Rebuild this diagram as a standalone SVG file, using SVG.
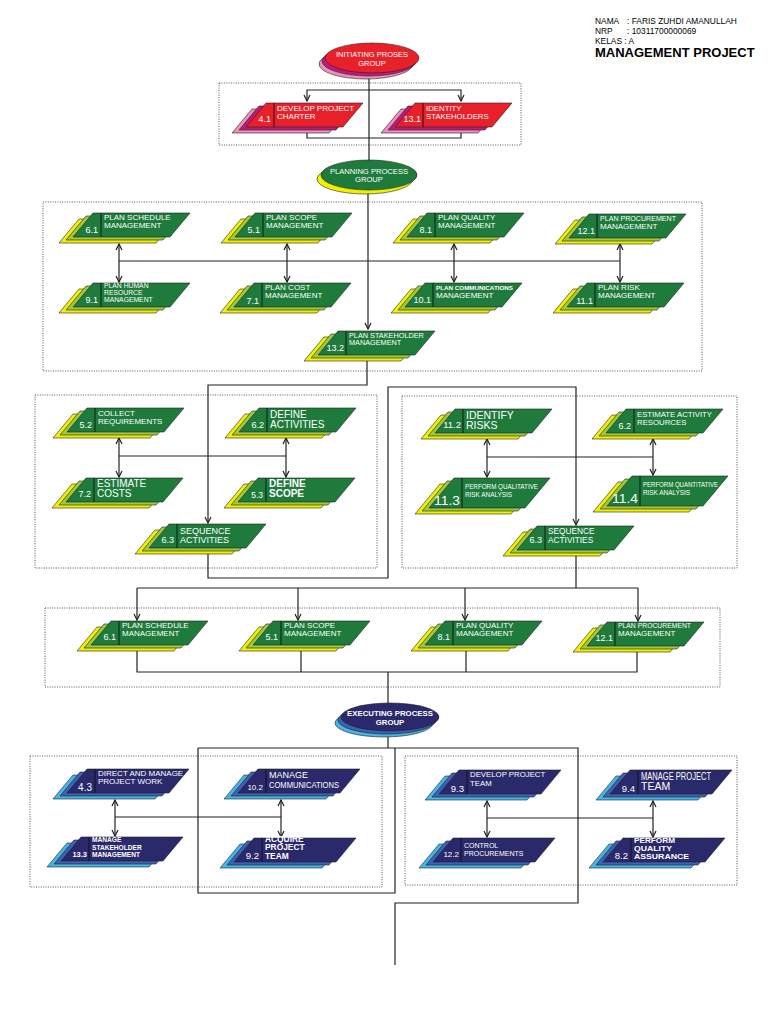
<svg xmlns="http://www.w3.org/2000/svg" xmlns:xlink="http://www.w3.org/1999/xlink" width="768" height="1024" viewBox="0 0 768 1024">
<style>
text{font-family:"Liberation Sans",Arial,sans-serif;}
.t{fill:#fff;font-size:8px;}
.n{fill:#fff;font-size:9px;text-anchor:end;}
.b{font-weight:bold;}
.hd{fill:#000;font-size:8.4px;}
.box{fill:none;stroke:#444;stroke-width:0.9;stroke-dasharray:1 1.4;}
.c{fill:none;stroke:#222;stroke-width:1.2;}
.dv{stroke:#111;stroke-width:0.9;}
.o{stroke:#222;stroke-width:0.6;}
.g1{fill:#1e7b3b;}.g2{fill:#9dc93b;}.g3{fill:#f2f000;}
.r1{fill:#e8202a;}.r2{fill:#c2187a;}.r3{fill:#ea92b9;}
.b1{fill:#29296b;}.b2{fill:#3d62b3;}.b3{fill:#45b5e5;}
</style>
<defs>
<marker id="ah" viewBox="0 0 8 8" refX="7" refY="4" markerWidth="8" markerHeight="8" markerUnits="userSpaceOnUse" orient="auto-start-reverse"><path d="M1,1 L7,4 L1,7" fill="none" stroke="#222" stroke-width="1.2"/></marker>
<g id="shG"><polygon class="g3 o" points="-22,6 75,6 55,30 -42,30"/><polygon class="g2 o" points="-15,3 82,3 62,27 -35,27"/><polygon class="g1 o" points="-8,0 89,0 69,24 -28,24"/><line class="dv" x1="0" y1="0" x2="0" y2="24"/></g>
<g id="shGt"><polygon class="g3 o" points="-22,6 74,6 49,36 -47,36"/><polygon class="g2 o" points="-15,3 81,3 56,33 -40,33"/><polygon class="g1 o" points="-8,0 88,0 63,30 -33,30"/><line class="dv" x1="0" y1="0" x2="0" y2="30"/></g>
<g id="shR"><polygon class="r3 o" points="-22,6 75,6 55,30 -42,30"/><polygon class="r2 o" points="-15,3 82,3 62,27 -35,27"/><polygon class="r1 o" points="-8,0 89,0 69,24 -28,24"/><line class="dv" x1="0" y1="0" x2="0" y2="24"/></g>
<g id="shB"><polygon class="b3 o" points="-22,6 80,6 60,30 -42,30"/><polygon class="b2 o" points="-15,3 87,3 67,27 -35,27"/><polygon class="b1 o" points="-8,0 94,0 74,24 -28,24"/><line class="dv" x1="0" y1="0" x2="0" y2="24"/></g>
</defs>
<rect width="768" height="1024" fill="#fff"/>

<g id="header">
<text class="hd" x="595" y="24">NAMA</text><text class="hd" x="627" y="24">: FARIS ZUHDI AMANULLAH</text>
<text class="hd" x="595" y="34">NRP</text><text class="hd" x="627" y="34">: 10311700000069</text>
<text class="hd" x="595" y="44">KELAS : A</text>
<text x="595" y="57" style="font-size:13px;font-weight:bold;fill:#000">MANAGEMENT PROJECT</text>
</g>

<g id="groups">
<rect class="box" x="219" y="83" width="302" height="62"/>
<rect class="box" x="43" y="202" width="659" height="169"/>
<rect class="box" x="35" y="395" width="342" height="173"/>
<rect class="box" x="402" y="396" width="335" height="172"/>
<rect class="box" x="45" y="608" width="675" height="79"/>
<rect class="box" x="30" y="756" width="352" height="131"/>
<rect class="box" x="405" y="756" width="332" height="129"/>
</g>

<g id="connectors">
<path class="c" d="M369,73 V161"/>
<path class="c" d="M307,101 V90 H461 V101" marker-start="url(#ah)" marker-end="url(#ah)"/>
<path class="c" d="M307,133 V138 H461 V133"/>
<path class="c" d="M368,190 V329" marker-end="url(#ah)"/>
<path class="c" d="M119,261 H620"/>
<path class="c" d="M119,244 V282" marker-start="url(#ah)" marker-end="url(#ah)"/>
<path class="c" d="M287,244 V282" marker-start="url(#ah)" marker-end="url(#ah)"/>
<path class="c" d="M454,244 V282" marker-start="url(#ah)" marker-end="url(#ah)"/>
<path class="c" d="M620,244 V282" marker-start="url(#ah)" marker-end="url(#ah)"/>
<path class="c" d="M367,358 V385 H208 V523" marker-end="url(#ah)"/>
<path class="c" d="M208,554 V578 H388 V387 H576 V525" marker-end="url(#ah)"/>
<path class="c" d="M119,456 H286"/>
<path class="c" d="M119,438 V477" marker-start="url(#ah)" marker-end="url(#ah)"/>
<path class="c" d="M286,438 V477" marker-start="url(#ah)" marker-end="url(#ah)"/>
<path class="c" d="M487,457 H653"/>
<path class="c" d="M487,439 V477" marker-start="url(#ah)" marker-end="url(#ah)"/>
<path class="c" d="M653,439 V475" marker-start="url(#ah)" marker-end="url(#ah)"/>
<path class="c" d="M576,556 V588 M137,588 H638"/>
<path class="c" d="M137,588 V620" marker-end="url(#ah)"/>
<path class="c" d="M298,588 V620" marker-end="url(#ah)"/>
<path class="c" d="M465,588 V620" marker-end="url(#ah)"/>
<path class="c" d="M638,588 V621" marker-end="url(#ah)"/>
<path class="c" d="M137,649 V672 H637 V650 M301,649 V672 M466,649 V672 M388,672 V703"/>
<path class="c" d="M388,731 V748 M198,748 H578 V903 H395 V965 M198,748 V893 H395 V748"/>
<path class="c" d="M115,817 H281"/>
<path class="c" d="M115,800 V836" marker-start="url(#ah)" marker-end="url(#ah)"/>
<path class="c" d="M281,800 V837" marker-start="url(#ah)" marker-end="url(#ah)"/>
<path class="c" d="M487,818 H653"/>
<path class="c" d="M487,801 V837" marker-start="url(#ah)" marker-end="url(#ah)"/>
<path class="c" d="M653,801 V837" marker-start="url(#ah)" marker-end="url(#ah)"/>
</g>

<g id="initiating">
<ellipse class="r3 o" cx="366" cy="64" rx="47" ry="15"/>
<ellipse class="r2 o" cx="369" cy="61" rx="47" ry="15"/>
<ellipse class="r1 o" cx="372" cy="58" rx="47" ry="15"/>
<text class="t" x="372" y="57" style="font-size:7.5px;text-anchor:middle">INITIATING PROSES</text>
<text class="t" x="372" y="65.5" style="font-size:7.5px;text-anchor:middle">GROUP</text>
</g>
<g id="n4-1" transform="translate(274,103)"><use xlink:href="#shR"/><text class="t" x="3" y="7.5">DEVELOP PROJECT</text><text class="t" x="3" y="15.5">CHARTER</text><text class="n" x="-3" y="19">4.1</text></g>
<g id="n13-1" transform="translate(423,103)"><use xlink:href="#shR"/><text class="t" x="3" y="7.5" style="font-size:7.8px">IDENTITY</text><text class="t" x="3" y="16" style="font-size:7.8px">STAKEHOLDERS</text><text class="n" x="-2" y="19">13.1</text></g>

<g id="planning">
<ellipse class="g3 o" cx="365" cy="179" rx="48" ry="15"/>
<ellipse class="g1 o" cx="369" cy="175" rx="48" ry="15"/>
<text class="t" x="369" y="174" style="font-size:7.6px;text-anchor:middle">PLANNING PROCESS</text>
<text class="t" x="369" y="182" style="font-size:7.6px;text-anchor:middle">GROUP</text>
</g>
<g id="p6-1" transform="translate(101,213)"><use xlink:href="#shG"/><text class="t" x="3" y="7">PLAN SCHEDULE</text><text class="t" x="3" y="15">MANAGEMENT</text><text class="n" x="-3" y="20">6.1</text></g>
<g id="p5-1" transform="translate(263,213)"><use xlink:href="#shG"/><text class="t" x="3" y="7">PLAN SCOPE</text><text class="t" x="3" y="15">MANAGEMENT</text><text class="n" x="-3" y="20">5.1</text></g>
<g id="p8-1" transform="translate(435,213)"><use xlink:href="#shG"/><text class="t" x="3" y="7">PLAN QUALITY</text><text class="t" x="3" y="15">MANAGEMENT</text><text class="n" x="-3" y="20">8.1</text></g>
<g id="p12-1" transform="translate(597,214)"><use xlink:href="#shG"/><text class="t" x="3" y="6.5" style="font-size:7.3px" textLength="76" lengthAdjust="spacingAndGlyphs">PLAN PROCUREMENT</text><text class="t" x="3" y="14.5">MANAGEMENT</text><text class="n" x="-2" y="20">12.1</text></g>
<g id="p9-1" transform="translate(101,283)"><use xlink:href="#shG"/><text class="t" x="3" y="4.5" style="font-size:6.8px">PLAN HUMAN</text><text class="t" x="3" y="11.8" style="font-size:6.8px">RESOURCE</text><text class="t" x="3" y="19" style="font-size:6.8px">MANAGEMENT</text><text class="n" x="-3" y="20">9.1</text></g>
<g id="p7-1" transform="translate(262,283)"><use xlink:href="#shG"/><text class="t" x="3" y="6.5">PLAN COST</text><text class="t" x="3" y="15">MANAGEMENT</text><text class="n" x="-3" y="21">7.1</text></g>
<g id="p10-1" transform="translate(433,283)"><use xlink:href="#shG"/><text class="t b" x="3" y="7" style="font-size:6px" textLength="77" lengthAdjust="spacingAndGlyphs">PLAN COMMUNICATIONS</text><text class="t" x="3" y="15">MANAGEMENT</text><text class="n" x="-2" y="20">10.1</text></g>
<g id="p11-1" transform="translate(595,283)"><use xlink:href="#shG"/><text class="t" x="3" y="6.5">PLAN RISK</text><text class="t" x="3" y="15">MANAGEMENT</text><text class="n" x="-2" y="21">11.1</text></g>
<g id="p13-2" transform="translate(346,331)"><use xlink:href="#shG"/><text class="t" x="3" y="6.5" style="font-size:7.3px">PLAN STAKEHOLDER</text><text class="t" x="3" y="14" style="font-size:7.3px">MANAGEMENT</text><text class="n" x="-2" y="20">13.2</text></g>

<g id="s5-2" transform="translate(95,408)"><use xlink:href="#shG"/><text class="t" x="3" y="7.5">COLLECT</text><text class="t" x="3" y="15.5">REQUIREMENTS</text><text class="n" x="-3" y="20">5.2</text></g>
<g id="s6-2" transform="translate(267,408)"><use xlink:href="#shG"/><text class="t" x="3" y="10" style="font-size:10px">DEFINE</text><text class="t" x="3" y="20" style="font-size:10px">ACTIVITIES</text><text class="n" x="-3" y="20">6.2</text></g>
<g id="s7-2" transform="translate(94,478)"><use xlink:href="#shG"/><text class="t" x="3" y="9" style="font-size:10px">ESTIMATE</text><text class="t" x="3" y="19" style="font-size:10px">COSTS</text><text class="n" x="-3" y="19">7.2</text></g>
<g id="s5-3" transform="translate(266,478)"><use xlink:href="#shG"/><text class="t b" x="3" y="9" style="font-size:10px">DEFINE</text><text class="t b" x="3" y="19" style="font-size:10px">SCOPE</text><text class="n" x="-3" y="20" style="font-size:8.5px">5.3</text></g>
<g id="s6-3a" transform="translate(177,524)"><use xlink:href="#shG"/><text class="t" x="3" y="9.5" style="font-size:9px">SEQUENCE</text><text class="t" x="3" y="19" style="font-size:9px">ACTIVITIES</text><text class="n" x="-3" y="19">6.3</text></g>

<g id="s11-2" transform="translate(463,409)"><use xlink:href="#shG"/><text class="t" x="3" y="9.5" style="font-size:10.5px">IDENTIFY</text><text class="t" x="3" y="20" style="font-size:10.5px">RISKS</text><text class="n" x="-2" y="19" style="font-size:9.5px">11.2</text></g>
<g id="s6-2b" transform="translate(634,409)"><use xlink:href="#shG"/><text class="t" x="3" y="8" style="font-size:7.8px" textLength="75" lengthAdjust="spacingAndGlyphs">ESTIMATE ACTIVITY</text><text class="t" x="3" y="15.5" style="font-size:7.8px">RESOURCES</text><text class="n" x="-3" y="20">6.2</text></g>
<g id="s11-3" transform="translate(462,478)"><use xlink:href="#shGt"/><text class="t" x="3" y="10.5" style="font-size:7.5px" textLength="73" lengthAdjust="spacingAndGlyphs">PERFORM QUALITATIVE</text><text class="t" x="3" y="18.5" style="font-size:7.5px" textLength="47" lengthAdjust="spacingAndGlyphs">RISK ANALYSIS</text><text class="n" x="-2" y="27" style="font-size:12px" textLength="26" lengthAdjust="spacingAndGlyphs">11.3</text></g>
<g id="s11-4" transform="translate(640,476)"><use xlink:href="#shGt"/><text class="t" x="3" y="10.5" style="font-size:7.5px" textLength="75" lengthAdjust="spacingAndGlyphs">PERFORM QUANTITATIVE</text><text class="t" x="3" y="19" style="font-size:7.5px" textLength="47" lengthAdjust="spacingAndGlyphs">RISK ANALYSIS</text><text class="n" x="-2" y="27" style="font-size:12px" textLength="26" lengthAdjust="spacingAndGlyphs">11.4</text></g>
<g id="s6-3b" transform="translate(545,526)"><use xlink:href="#shG"/><text class="t" x="3" y="8" style="font-size:8.3px">SEQUENCE</text><text class="t" x="3" y="17" style="font-size:8.3px">ACTIVITIES</text><text class="n" x="-3" y="17">6.3</text></g>

<g id="r6-1" transform="translate(119,621)"><use xlink:href="#shG"/><text class="t" x="3" y="6.5">PLAN SCHEDULE</text><text class="t" x="3" y="14.5">MANAGEMENT</text><text class="n" x="-3" y="19">6.1</text></g>
<g id="r5-1" transform="translate(281,621)"><use xlink:href="#shG"/><text class="t" x="3" y="6.5">PLAN SCOPE</text><text class="t" x="3" y="14.5">MANAGEMENT</text><text class="n" x="-3" y="19">5.1</text></g>
<g id="r8-1" transform="translate(453,621)"><use xlink:href="#shG"/><text class="t" x="3" y="6.5">PLAN QUALITY</text><text class="t" x="3" y="14.5">MANAGEMENT</text><text class="n" x="-3" y="19">8.1</text></g>
<g id="r12-1" transform="translate(615,622)"><use xlink:href="#shG"/><text class="t" x="3" y="6" style="font-size:7.3px" textLength="73" lengthAdjust="spacingAndGlyphs">PLAN PROCUREMENT</text><text class="t" x="3" y="14">MANAGEMENT</text><text class="n" x="-2" y="19">12.1</text></g>

<g id="executing">
<ellipse class="b3 o" cx="384" cy="723" rx="49" ry="14"/>
<ellipse class="b2 o" cx="387" cy="720" rx="49" ry="14"/>
<ellipse class="b1 o" cx="390" cy="717" rx="49" ry="14"/>
<text class="t b" x="390" y="716" style="font-size:7.8px;text-anchor:middle">EXECUTING PROCESS</text>
<text class="t b" x="390" y="724.5" style="font-size:7.8px;text-anchor:middle">GROUP</text>
</g>
<g id="e4-3" transform="translate(95,769)"><use xlink:href="#shB"/><text class="t" x="3" y="7">DIRECT AND MANAGE</text><text class="t" x="3" y="14.5">PROJECT WORK</text><text class="n" x="-3" y="22" style="font-size:10px">4.3</text></g>
<g id="e10-2" transform="translate(266,769)"><use xlink:href="#shB"/><text class="t" x="3" y="8.5" style="font-size:9px">MANAGE</text><text class="t" x="3" y="19" style="font-size:9.5px" textLength="70" lengthAdjust="spacingAndGlyphs">COMMUNICATIONS</text><text class="n" x="-3" y="21" style="font-size:8px">10.2</text></g>
<g id="e13-3" transform="translate(89,837)"><use xlink:href="#shB"/><text class="t b" x="3" y="5" style="font-size:6.6px">MANAGE</text><text class="t b" x="3" y="12.5" style="font-size:6.6px">STAKEHOLDER</text><text class="t b" x="3" y="20" style="font-size:6.6px">MANAGEMENT</text><text class="n b" x="-2" y="20" style="font-size:7.5px">13.3</text></g>
<g id="e9-2" transform="translate(262,838)"><use xlink:href="#shB"/><text class="t b" x="3" y="3.5" style="font-size:8.4px">ACQUIRE</text><text class="t b" x="3" y="12" style="font-size:8.4px">PROJECT</text><text class="t b" x="3" y="20.5" style="font-size:8.4px">TEAM</text><text class="n" x="-3" y="20.5" style="font-size:9.5px">9.2</text></g>
<g id="e9-3" transform="translate(467,770)"><use xlink:href="#shB"/><text class="t" x="3" y="7" style="font-size:7.8px">DEVELOP PROJECT</text><text class="t" x="3" y="15.5" style="font-size:7.8px">TEAM</text><text class="n" x="-3" y="22" style="font-size:9.5px">9.3</text></g>
<g id="e9-4" transform="translate(638,770)"><use xlink:href="#shB"/><text class="t" x="3" y="10" style="font-size:10.5px" textLength="70" lengthAdjust="spacingAndGlyphs">MANAGE PROJECT</text><text class="t" x="3" y="20" style="font-size:10.5px">TEAM</text><text class="n" x="-3" y="22" style="font-size:9.5px">9.4</text></g>
<g id="e12-2" transform="translate(461,838)"><use xlink:href="#shB"/><text class="t" x="3" y="10" style="font-size:7px">CONTROL</text><text class="t" x="3" y="17.5" style="font-size:7px">PROCUREMENTS</text><text class="n" x="-2" y="19" style="font-size:8px">12.2</text></g>
<g id="e8-2" transform="translate(631,838)"><use xlink:href="#shB"/><text class="t b" x="3" y="4.5" style="font-size:7.9px" textLength="41" lengthAdjust="spacingAndGlyphs">PERFORM</text><text class="t b" x="3" y="12.5" style="font-size:7.9px" textLength="38" lengthAdjust="spacingAndGlyphs">QUALITY</text><text class="t b" x="3" y="20.5" style="font-size:7.9px" textLength="55" lengthAdjust="spacingAndGlyphs">ASSURANCE</text><text class="n" x="-3" y="20.5" style="font-size:9.5px">8.2</text></g>
</svg>
